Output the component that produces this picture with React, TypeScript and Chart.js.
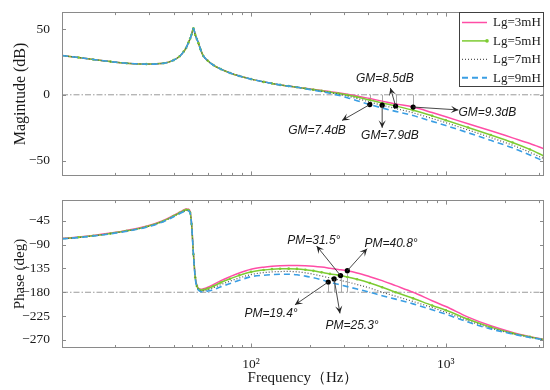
import React, { useEffect, useRef } from 'react';
import { Chart, registerables } from 'chart.js';

Chart.register(...registerables);

// ---------- data ----------
const X_MIN = 10.7;
const X_MAX = 3190;

const freq = [10.7, 13, 15.5, 19, 23, 29, 35.5, 40, 43, 45, 46.4, 47.7, 48.7, 49.5, 50.6, 51.7, 52.7, 53.7, 55, 56.9, 60, 64, 70, 78, 87, 100, 116, 128, 141, 156, 172, 190, 209, 230, 254, 280, 312, 350, 407, 471, 552, 679, 850, 1000, 1300, 1700, 2200, 2700, 3190];

const mag3 = [29.8, 28.3, 26.8, 25.2, 24.0, 23.3, 23.9, 26.3, 29.3, 32.6, 35.6, 39.6, 42.8, 45.8, 50.5, 45.5, 42.3, 39.2, 34.5, 29.5, 25.8, 22.6, 19.5, 16.6, 14.3, 11.9, 9.8, 8.6, 7.5, 6.6, 5.7,
  4.9, 4.1, 3.3, 2.4, 1.5, 0.4, -0.9, -2.9, -4.8, -6.9, -9.3, -13.5, -16.7, -22.0, -27.3, -32.7, -37.0, -41.0];
const mag5 = [29.8, 28.3, 26.8, 25.2, 24.0, 23.3, 23.9, 26.3, 29.3, 32.6, 35.6, 39.6, 42.8, 45.8, 50.5, 45.5, 42.3, 39.2, 34.5, 29.5, 25.8, 22.6, 19.5, 16.6, 14.3, 11.9, 9.8, 8.6, 7.5, 6.6, 5.7,
  4.8, 3.9, 3.0, 2.0, 1.0, -0.2, -1.7, -4.0, -6.2, -8.5, -11.7, -16.0, -19.3, -24.8, -30.5, -36.2, -41.5, -46.5];
const mag7 = [29.8, 28.3, 26.8, 25.2, 24.0, 23.3, 23.9, 26.3, 29.3, 32.6, 35.6, 39.6, 42.8, 45.8, 50.5, 45.5, 42.3, 39.2, 34.5, 29.5, 25.8, 22.6, 19.5, 16.6, 14.3, 11.9, 9.8, 8.6, 7.5, 6.6, 5.7,
  4.7, 3.7, 2.7, 1.6, 0.5, -1.0, -2.8, -5.5, -7.9, -10.4, -13.7, -18.0, -21.2, -26.7, -32.5, -38.3, -43.7, -48.5];
const mag9 = [29.8, 28.3, 26.8, 25.2, 24.0, 23.3, 23.9, 26.3, 29.3, 32.6, 35.6, 39.6, 42.8, 45.8, 50.5, 45.5, 42.3, 39.2, 34.5, 29.5, 25.8, 22.6, 19.5, 16.6, 14.3, 11.9, 9.8, 8.6, 7.5, 6.6, 5.7,
  4.6, 3.5, 2.4, 1.1, -0.3, -2.2, -4.5, -7.4, -10.0, -12.6, -15.8, -20.2, -23.4, -28.8, -34.6, -40.3, -45.7, -50.5];

const phase3 = [-78, -75.5, -72.5, -68, -63, -55, -44, -34.5, -28.5, -24.5, -22.5, -23, -28, -50, -107, -151, -167, -172.5, -174.5, -173.5, -170.5, -165.5, -158, -150.5, -143.5, -136.5, -132.5, -130.8, -129.8, -129.3, -129.3, -129.8, -130.8, -132.3, -134.5, -136.8, -139.5, -143.5, -150.5, -158, -167.5, -180, -196, -207, -227, -243.5, -256, -264, -269.5];
const phase5 = [-78.5, -76, -73, -68.7, -63.8, -56, -45.2, -35.8, -29.8, -26, -24, -24.5, -29.5, -51, -108, -152, -168, -174, -176, -175.5, -173, -168.5, -161.5, -154.5, -148, -141.5, -137.8, -136.3, -135.5, -135.3, -135.8, -137.3, -139.5, -142.3, -145.3, -147.8, -151, -155.5, -162.5, -170.5, -180, -191.5, -205, -214, -231, -246, -257.5, -264.5, -269.5];
const phase7 = [-78.8, -76.3, -73.3, -69, -64.2, -56.5, -45.8, -36.5, -30.5, -26.8, -24.8, -25.3, -30, -51.5, -108.5, -153, -169, -175, -177.3, -177.3, -175.3, -171.5, -165.5, -159, -153, -146.5, -142.8, -141.5, -140.8, -140.6, -141.3, -143.2, -146, -149.3, -152.8, -156.5, -160.5, -165.3, -172, -180, -187.5, -197.5, -209, -218, -234, -248, -258.5, -265, -270];
const phase9 = [-79, -76.6, -73.6, -69.4, -64.6, -57, -46.4, -37.2, -31.2, -27.5, -25.5, -26, -30.5, -52, -109, -154, -170, -176, -178.5, -179, -177.8, -175, -169.5, -163.5, -157.5, -150.5, -147.8, -146.7, -146, -146, -147, -149.5, -152.5, -156.5, -161, -165, -169.3, -174, -180, -186.5, -193, -202, -213, -221.5, -236.5, -249.5, -259, -265.5, -270];

const seriesLabels = ['Lg=3mH', 'Lg=5mH', 'Lg=7mH', 'Lg=9mH'];

const xTicks = [20, 30, 40, 50, 60, 70, 80, 90, 100, 200, 300, 400, 500, 600, 700, 800, 900, 1000, 2000, 3000];
const magTicks = [-50, 0, 50];
const phaseTicks = [-270, -225, -180, -135, -90, -45];

// gain margins (frequency, magnitude at phase crossover)
const gmFreq = [407, 471, 552, 679];
const gmMag = [-7.4, -7.9, -8.5, -9.3];
const gmLabels = ['GM=7.4dB', 'GM=7.9dB', 'GM=8.5dB', 'GM=9.3dB'];
const gmLabelAt = [[218, -27.2], [516, -31.4], [486, 12.4], [1633, -13.3]];
const gmArrowTo = [[293, -19.5], [471, -25.1], [519, 5.2], [1159, -11.5]];

// phase margins (frequency, phase at gain crossover)
const pmFreq = [249, 267, 288, 312];
const pmPhase = [-160.6, -154.7, -148.5, -139.2];
const pmLabels = ['PM=19.4°', 'PM=25.3°', 'PM=31.5°', 'PM=40.8°'];
const pmLabelAt = [[126.6, -221.4], [330, -242.9], [210, -81.7], [523, -88.5]];
const pmArrowTo = [[168, -203.8], [286, -220], [217, -92.4], [394, -97.5]];

// ---------- styles ----------
const SERIF = '"Liberation Serif", "Times New Roman", serif';
const SANS = '"Liberation Sans", Arial, sans-serif';
const TEXT = '#1a1a1a';

const seriesStyle = [
  { color: '#FF4DA6', dash: [] as number[], width: 1.5, point: 0 },
  { color: '#7DCB32', dash: [] as number[], width: 1.5, point: 1.3 },
  { color: '#555555', dash: [1, 2], width: 1.2, point: 0 },
  { color: '#3A9EE4', dash: [6, 4], width: 1.6, point: 0 },
];

function pts(xs: number[], ys: number[]) {
  return xs.map((x, i) => ({ x, y: ys[i] }));
}

function seriesDatasets(values: number[][]) {
  return values.map((vals, i) => ({
    label: seriesLabels[i],
    data: pts(freq, vals),
    borderColor: seriesStyle[i].color,
    backgroundColor: seriesStyle[i].color,
    borderWidth: seriesStyle[i].width,
    borderDash: seriesStyle[i].dash,
    pointRadius: seriesStyle[i].point,
    pointBorderWidth: 0,
    pointHoverRadius: 0,
    cubicInterpolationMode: 'monotone',
    order: 4 - i,
  }));
}

function refDataset(level: number) {
  return {
    label: 'ref',
    data: [{ x: X_MIN, y: level }, { x: X_MAX, y: level }],
    borderColor: '#9a9a9a',
    borderWidth: 1,
    borderDash: [6, 2, 1.5, 2],
    pointRadius: 0,
    order: 5,
  };
}

function markerDataset(xs: number[], ys: number[]) {
  return {
    label: 'margins',
    data: pts(xs, ys),
    showLine: false,
    pointRadius: 2.6,
    pointBackgroundColor: '#000',
    pointBorderColor: '#000',
    pointBorderWidth: 0,
    order: 0,
  };
}

function line(ctx: any, x0: number, y0: number, x1: number, y1: number) {
  ctx.beginPath();
  ctx.moveTo(x0, y0);
  ctx.lineTo(x1, y1);
  ctx.stroke();
}

function arrow(ctx: any, x0: number, y0: number, x1: number, y1: number) {
  line(ctx, x0, y0, x1, y1);
  const a = Math.atan2(y1 - y0, x1 - x0);
  const c = Math.cos(a), s = Math.sin(a);
  const L = 7.5, W = 3.6;
  ctx.beginPath();
  ctx.moveTo(x1, y1);
  ctx.lineTo(x1 - L * c + W * s, y1 - L * s - W * c);
  ctx.lineTo(x1 - 0.55 * L * c, y1 - 0.55 * L * s);
  ctx.lineTo(x1 - L * c - W * s, y1 - L * s + W * c);
  ctx.closePath();
  ctx.fill();
}

const framePlugin = {
  id: 'frame',
  afterDatasetsDraw(chart: any) {
    const { ctx, chartArea: a, scales } = chart;
    ctx.save();
    ctx.strokeStyle = '#8a8a8a';
    ctx.lineWidth = 1;
    const xs = scales.x;
    xs.ticks.forEach((t: any) => {
      const px = Math.round(xs.getPixelForValue(t.value)) + 0.5;
      const len = t.value === 100 || t.value === 1000 ? 4.5 : 3;
      line(ctx, px, a.top, px, a.top + len);
      line(ctx, px, a.bottom, px, a.bottom - len);
    });
    const ys = scales.y;
    ys.ticks.forEach((t: any) => {
      const py = Math.round(ys.getPixelForValue(t.value)) + 0.5;
      line(ctx, a.left, py, a.left + 4, py);
      line(ctx, a.right, py, a.right - 4, py);
    });
    ctx.strokeRect(Math.round(a.left) + 0.5, Math.round(a.top) + 0.5, Math.round(a.right - a.left) - 1, Math.round(a.bottom - a.top) - 1);
    ctx.restore();
  },
};

function marginPlugin(id: string, ref: number, mx: number[], my: number[], labels: string[], labelAt: number[][], arrowTo: number[][]) {
  return {
    id,
    beforeDatasetsDraw(chart: any) {
      const { ctx, scales: { x, y } } = chart;
      ctx.save();
      ctx.strokeStyle = '#a8a8a8';
      ctx.lineWidth = 1;
      mx.forEach((f, i) => {
        const px = Math.round(x.getPixelForValue(f)) + 0.5;
        line(ctx, px, y.getPixelForValue(ref), px, y.getPixelForValue(my[i]));
      });
      ctx.restore();
    },
    afterDatasetsDraw(chart: any) {
      const { ctx, scales: { x, y } } = chart;
      ctx.save();
      ctx.strokeStyle = '#333';
      ctx.fillStyle = '#222';
      ctx.lineWidth = 0.9;
      mx.forEach((f, i) => {
        arrow(ctx, x.getPixelForValue(f), y.getPixelForValue(my[i]),
          x.getPixelForValue(arrowTo[i][0]), y.getPixelForValue(arrowTo[i][1]));
      });
      ctx.fillStyle = TEXT;
      ctx.font = `italic 12px ${SANS}`;
      ctx.textAlign = 'center';
      ctx.textBaseline = 'middle';
      labels.forEach((lab, i) => {
        ctx.fillText(lab, x.getPixelForValue(labelAt[i][0]), y.getPixelForValue(labelAt[i][1]));
      });
      ctx.restore();
    },
  };
}

const legendPlugin = {
  id: 'boxLegend',
  afterDraw(chart: any) {
    const { ctx, chartArea: a } = chart;
    const w = 85, h = 75;
    const x0 = Math.round(a.right) - w, y0 = Math.round(a.top);
    ctx.save();
    ctx.fillStyle = '#fff';
    ctx.fillRect(x0, y0, w, h);
    ctx.strokeStyle = '#404040';
    ctx.lineWidth = 1;
    ctx.strokeRect(x0 + 0.5, y0 + 0.5, w - 1, h - 1);
    seriesLabels.forEach((lab, i) => {
      const st = seriesStyle[i];
      const yy = y0 + 10.5 + i * 18.4;
      ctx.strokeStyle = st.color;
      ctx.lineWidth = i === 3 ? 2 : st.width;
      ctx.setLineDash(st.dash);
      line(ctx, x0 + 3, yy, x0 + 28, yy);
      ctx.setLineDash([]);
      if (st.point) {
        ctx.fillStyle = st.color;
        ctx.beginPath();
        ctx.arc(x0 + 28, yy, 1.8, 0, Math.PI * 2);
        ctx.fill();
      }
      ctx.fillStyle = TEXT;
      ctx.font = `13px ${SERIF}`;
      ctx.textAlign = 'left';
      ctx.textBaseline = 'middle';
      ctx.fillText(lab, x0 + 34, yy + 0.5);
    });
    ctx.restore();
  },
};

function minusLabel(v: any) {
  const n = Number(v);
  return n < 0 ? '\u2212' + Math.abs(n) : String(n);
}

function yAxis(min: number, max: number, ticks: number[], title: string, titleSize: number) {
  return {
    type: 'linear',
    min,
    max,
    afterBuildTicks: (s: any) => { s.ticks = ticks.map((v) => ({ value: v })); },
    afterFit: (s: any) => { s.width = 62; },
    grid: { display: false },
    border: { display: false },
    ticks: { font: { family: SERIF, size: 13.5 }, color: TEXT, padding: 4, callback: minusLabel },
    title: { display: true, text: title, color: TEXT, font: { family: SERIF, size: titleSize }, padding: { top: 11, bottom: 0 } },
  };
}

function xAxis(showLabels: boolean) {
  return {
    type: 'logarithmic',
    min: X_MIN,
    max: X_MAX,
    afterBuildTicks: (s: any) => { s.ticks = xTicks.map((v) => ({ value: v })); },
    afterFit: (s: any) => { s.height = showLabels ? 42 : 0; },
    grid: { display: false },
    border: { display: false },
    ticks: {
      display: showLabels,
      autoSkip: false,
      maxRotation: 0,
      minRotation: 0,
      padding: 0,
      color: TEXT,
      font: { family: SERIF, size: 13.5 },
      callback: (v: any) => (Number(v) === 100 ? '10²' : Number(v) === 1000 ? '10³' : ''),
    },
    title: showLabels
      ? { display: true, text: 'Frequency（Hz）', color: TEXT, font: { family: SERIF, size: 15 }, padding: { top: 0, bottom: 3 } }
      : { display: false },
  };
}

function baseOptions(scales: any, padding: any) {
  return {
    responsive: false,
    animation: false,
    events: [],
    layout: { padding, autoPadding: false },
    plugins: { legend: { display: false }, tooltip: { enabled: false } },
    scales,
  };
}

export default function App() {
  const topRef = useRef<HTMLCanvasElement>(null);
  const botRef = useRef<HTMLCanvasElement>(null);

  useEffect(() => {
    const top = new Chart(topRef.current as any, {
      type: 'line',
      data: {
        datasets: [
          ...seriesDatasets([mag3, mag5, mag7, mag9]),
          refDataset(0),
          markerDataset(gmFreq, gmMag),
        ] as any,
      },
      options: baseOptions(
        { x: xAxis(false), y: yAxis(-61.6, 62.8, magTicks, 'Magintude (dB)', 16) },
        { left: 0, right: 6, top: 5, bottom: 5 },
      ) as any,
      plugins: [
        marginPlugin('gm', 0, gmFreq, gmMag, gmLabels, gmLabelAt, gmArrowTo),
        framePlugin,
        legendPlugin,
      ],
    });
    const bot = new Chart(botRef.current as any, {
      type: 'line',
      data: {
        datasets: [
          ...seriesDatasets([phase3, phase5, phase7, phase9]),
          refDataset(-180),
          markerDataset(pmFreq, pmPhase),
        ] as any,
      },
      options: baseOptions(
        { x: xAxis(true), y: yAxis(-285.5, -5.6, phaseTicks, 'Phase (deg)', 15) },
        { left: 0, right: 6, top: 4, bottom: 0 },
      ) as any,
      plugins: [
        marginPlugin('pm', -180, pmFreq, pmPhase, pmLabels, pmLabelAt, pmArrowTo),
        framePlugin,
      ],
    });
    return () => {
      top.destroy();
      bot.destroy();
    };
  }, []);

  return (
    <div style={{ position: 'absolute', left: 0, top: 0, width: 550, height: 390, background: '#fff', overflow: 'hidden' }}>
      <canvas ref={topRef} width={550} height={188} style={{ position: 'absolute', left: 0, top: 0, width: 550, height: 188 }} />
      <canvas ref={botRef} width={550} height={202} style={{ position: 'absolute', left: 0, top: 188, width: 550, height: 202 }} />
    </div>
  );
}
